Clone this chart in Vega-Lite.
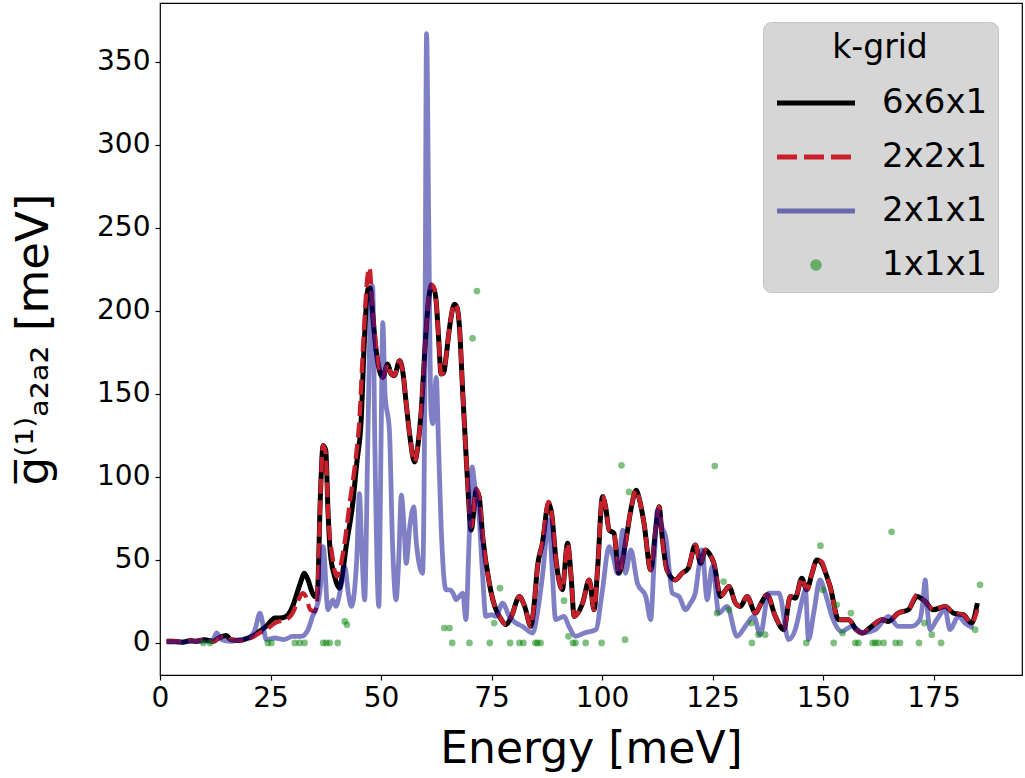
{
  "$schema": "https://vega.github.io/schema/vega-lite/v6.json",
  "width": 862,
  "height": 672,
  "autosize": {"type": "none"},
  "padding": {"left": 160, "top": 3, "right": 3, "bottom": 103},
  "background": "white",
  "config": {
    "font": "DejaVu Sans",
    "view": {"stroke": "black", "strokeWidth": 1.2},
    "axis": {"domain": false, "grid": false, "tickColor": "black", "tickSize": 5, "tickWidth": 1.2, "labelColor": "black", "titleColor": "black", "labelFont": "DejaVu Sans", "titleFont": "DejaVu Sans", "titleFontWeight": "normal"}
  },
  "data": {"values": [
    {"k":"6x6x1","E":1.5,"g":1},{"k":"6x6x1","E":3,"g":1},{"k":"6x6x1","E":5,"g":0.5},{"k":"6x6x1","E":7,"g":1.5},{"k":"6x6x1","E":8,"g":1},{"k":"6x6x1","E":10,"g":2},{"k":"6x6x1","E":12,"g":1},{"k":"6x6x1","E":13,"g":2.5},{"k":"6x6x1","E":15,"g":4.5},{"k":"6x6x1","E":16,"g":2},{"k":"6x6x1","E":18,"g":1.5},{"k":"6x6x1","E":20,"g":3},{"k":"6x6x1","E":21,"g":4},{"k":"6x6x1","E":22.5,"g":7},{"k":"6x6x1","E":24,"g":10},{"k":"6x6x1","E":26,"g":15},{"k":"6x6x1","E":27,"g":15},{"k":"6x6x1","E":28.5,"g":16},{"k":"6x6x1","E":30,"g":22},{"k":"6x6x1","E":31,"g":30},{"k":"6x6x1","E":32,"g":38},{"k":"6x6x1","E":32.6,"g":42},{"k":"6x6x1","E":33.5,"g":38},{"k":"6x6x1","E":34.2,"g":32},{"k":"6x6x1","E":35,"g":28},{"k":"6x6x1","E":35.6,"g":30},{"k":"6x6x1","E":36.3,"g":90},{"k":"6x6x1","E":36.9,"g":119},{"k":"6x6x1","E":37.5,"g":116},{"k":"6x6x1","E":38,"g":80},{"k":"6x6x1","E":38.5,"g":55},{"k":"6x6x1","E":39.5,"g":40},{"k":"6x6x1","E":40.6,"g":33},{"k":"6x6x1","E":41.3,"g":42},{"k":"6x6x1","E":42.1,"g":58},{"k":"6x6x1","E":43.6,"g":84},{"k":"6x6x1","E":44.5,"g":108},{"k":"6x6x1","E":45.5,"g":134},{"k":"6x6x1","E":46.2,"g":180},{"k":"6x6x1","E":47,"g":213},{"k":"6x6x1","E":47.5,"g":214},{"k":"6x6x1","E":48.2,"g":195},{"k":"6x6x1","E":48.9,"g":176},{"k":"6x6x1","E":50.4,"g":160},{"k":"6x6x1","E":51.5,"g":168},{"k":"6x6x1","E":52.3,"g":162},{"k":"6x6x1","E":53,"g":161},{"k":"6x6x1","E":54.2,"g":170},{"k":"6x6x1","E":55,"g":162},{"k":"6x6x1","E":55.7,"g":144},{"k":"6x6x1","E":56.5,"g":125},{"k":"6x6x1","E":57.6,"g":109},{"k":"6x6x1","E":58.3,"g":118},{"k":"6x6x1","E":59.1,"g":140},{"k":"6x6x1","E":60,"g":180},{"k":"6x6x1","E":60.7,"g":205},{"k":"6x6x1","E":61.3,"g":214},{"k":"6x6x1","E":62,"g":213},{"k":"6x6x1","E":62.5,"g":205},{"k":"6x6x1","E":63,"g":185},{"k":"6x6x1","E":63.6,"g":162},{"k":"6x6x1","E":64.2,"g":163},{"k":"6x6x1","E":64.7,"g":172},{"k":"6x6x1","E":65.5,"g":190},{"k":"6x6x1","E":66.6,"g":204},{"k":"6x6x1","E":67.2,"g":202},{"k":"6x6x1","E":67.7,"g":192},{"k":"6x6x1","E":68.5,"g":150},{"k":"6x6x1","E":69.2,"g":115},{"k":"6x6x1","E":69.6,"g":96},{"k":"6x6x1","E":70.4,"g":68},{"k":"6x6x1","E":71,"g":80},{"k":"6x6x1","E":71.5,"g":92},{"k":"6x6x1","E":72.2,"g":88},{"k":"6x6x1","E":73,"g":64},{"k":"6x6x1","E":74.5,"g":36},{"k":"6x6x1","E":76,"g":20},{"k":"6x6x1","E":77,"g":15},{"k":"6x6x1","E":78.3,"g":11},{"k":"6x6x1","E":79.5,"g":16},{"k":"6x6x1","E":81.3,"g":28},{"k":"6x6x1","E":82.5,"g":22},{"k":"6x6x1","E":83.9,"g":10},{"k":"6x6x1","E":84.7,"g":25},{"k":"6x6x1","E":85.4,"g":46},{"k":"6x6x1","E":86.5,"g":60},{"k":"6x6x1","E":87.9,"g":84},{"k":"6x6x1","E":88.6,"g":78},{"k":"6x6x1","E":89.5,"g":52},{"k":"6x6x1","E":91,"g":32},{"k":"6x6x1","E":92.2,"g":60},{"k":"6x6x1","E":93,"g":40},{"k":"6x6x1","E":93.7,"g":16},{"k":"6x6x1","E":95.6,"g":24},{"k":"6x6x1","E":97.1,"g":38},{"k":"6x6x1","E":98.2,"g":20},{"k":"6x6x1","E":99,"g":45},{"k":"6x6x1","E":100.1,"g":88},{"k":"6x6x1","E":100.8,"g":82},{"k":"6x6x1","E":101.6,"g":68},{"k":"6x6x1","E":102.7,"g":66},{"k":"6x6x1","E":103.8,"g":42},{"k":"6x6x1","E":105.3,"g":60},{"k":"6x6x1","E":106.5,"g":80},{"k":"6x6x1","E":107.7,"g":92},{"k":"6x6x1","E":108.5,"g":86},{"k":"6x6x1","E":109.5,"g":72},{"k":"6x6x1","E":111,"g":44},{"k":"6x6x1","E":112.2,"g":70},{"k":"6x6x1","E":112.9,"g":82},{"k":"6x6x1","E":113.6,"g":64},{"k":"6x6x1","E":114.7,"g":44},{"k":"6x6x1","E":116.6,"g":38},{"k":"6x6x1","E":118.1,"g":42},{"k":"6x6x1","E":119.5,"g":45},{"k":"6x6x1","E":121.1,"g":59},{"k":"6x6x1","E":122.3,"g":48},{"k":"6x6x1","E":123.4,"g":56},{"k":"6x6x1","E":124.2,"g":54},{"k":"6x6x1","E":125.3,"g":48},{"k":"6x6x1","E":126.8,"g":28},{"k":"6x6x1","E":127.5,"g":30},{"k":"6x6x1","E":128.7,"g":34},{"k":"6x6x1","E":130.2,"g":24},{"k":"6x6x1","E":131.3,"g":22},{"k":"6x6x1","E":132.8,"g":28},{"k":"6x6x1","E":134.7,"g":18},{"k":"6x6x1","E":136,"g":24},{"k":"6x6x1","E":137.3,"g":29},{"k":"6x6x1","E":139.2,"g":16},{"k":"6x6x1","E":141.1,"g":8},{"k":"6x6x1","E":142.6,"g":28},{"k":"6x6x1","E":143.7,"g":27},{"k":"6x6x1","E":145.2,"g":39},{"k":"6x6x1","E":146.3,"g":32},{"k":"6x6x1","E":147.5,"g":42},{"k":"6x6x1","E":148.6,"g":50},{"k":"6x6x1","E":149.7,"g":48},{"k":"6x6x1","E":150.6,"g":42},{"k":"6x6x1","E":151.6,"g":34},{"k":"6x6x1","E":153.5,"g":14},{"k":"6x6x1","E":155.8,"g":14},{"k":"6x6x1","E":157.5,"g":8},{"k":"6x6x1","E":158.8,"g":6},{"k":"6x6x1","E":161,"g":10},{"k":"6x6x1","E":163.3,"g":14},{"k":"6x6x1","E":164.8,"g":13},{"k":"6x6x1","E":167,"g":18},{"k":"6x6x1","E":169.3,"g":20},{"k":"6x6x1","E":171.2,"g":28},{"k":"6x6x1","E":173.1,"g":25},{"k":"6x6x1","E":174.9,"g":20},{"k":"6x6x1","E":177.6,"g":22},{"k":"6x6x1","E":179.5,"g":18},{"k":"6x6x1","E":181.7,"g":17},{"k":"6x6x1","E":183.6,"g":12},{"k":"6x6x1","E":184.9,"g":24},

    {"k":"2x2x1","E":1.5,"g":1},{"k":"2x2x1","E":3,"g":1},{"k":"2x2x1","E":5,"g":0.5},{"k":"2x2x1","E":7,"g":1.5},{"k":"2x2x1","E":8,"g":1},{"k":"2x2x1","E":10,"g":2},{"k":"2x2x1","E":12,"g":1},{"k":"2x2x1","E":13,"g":2.5},{"k":"2x2x1","E":15,"g":4},{"k":"2x2x1","E":16,"g":2},{"k":"2x2x1","E":18,"g":1.5},{"k":"2x2x1","E":20,"g":2.5},{"k":"2x2x1","E":21,"g":3.5},{"k":"2x2x1","E":22.5,"g":6},{"k":"2x2x1","E":24,"g":8},{"k":"2x2x1","E":26,"g":12},{"k":"2x2x1","E":27,"g":13},{"k":"2x2x1","E":28.5,"g":14},{"k":"2x2x1","E":30,"g":18},{"k":"2x2x1","E":31,"g":24},{"k":"2x2x1","E":32.3,"g":30},{"k":"2x2x1","E":33,"g":28},{"k":"2x2x1","E":34,"g":20},{"k":"2x2x1","E":35,"g":19},{"k":"2x2x1","E":35.6,"g":28},{"k":"2x2x1","E":36.3,"g":90},{"k":"2x2x1","E":36.9,"g":119},{"k":"2x2x1","E":37.5,"g":114},{"k":"2x2x1","E":38,"g":80},{"k":"2x2x1","E":39,"g":52},{"k":"2x2x1","E":40,"g":40},{"k":"2x2x1","E":41.4,"g":54},{"k":"2x2x1","E":42.9,"g":84},{"k":"2x2x1","E":44.4,"g":114},{"k":"2x2x1","E":45.1,"g":134},{"k":"2x2x1","E":46,"g":182},{"k":"2x2x1","E":47,"g":222},{"k":"2x2x1","E":47.4,"g":226},{"k":"2x2x1","E":48,"g":205},{"k":"2x2x1","E":48.9,"g":178},{"k":"2x2x1","E":50.4,"g":160},{"k":"2x2x1","E":51.5,"g":168},{"k":"2x2x1","E":52.3,"g":162},{"k":"2x2x1","E":53,"g":161},{"k":"2x2x1","E":54.2,"g":170},{"k":"2x2x1","E":55,"g":162},{"k":"2x2x1","E":55.7,"g":144},{"k":"2x2x1","E":56.5,"g":125},{"k":"2x2x1","E":57.6,"g":109},{"k":"2x2x1","E":58.3,"g":118},{"k":"2x2x1","E":59.1,"g":140},{"k":"2x2x1","E":60,"g":180},{"k":"2x2x1","E":60.7,"g":206},{"k":"2x2x1","E":61.3,"g":216},{"k":"2x2x1","E":62,"g":214},{"k":"2x2x1","E":62.5,"g":205},{"k":"2x2x1","E":63,"g":185},{"k":"2x2x1","E":63.6,"g":162},{"k":"2x2x1","E":64.2,"g":163},{"k":"2x2x1","E":64.7,"g":172},{"k":"2x2x1","E":65.5,"g":190},{"k":"2x2x1","E":66.6,"g":204},{"k":"2x2x1","E":67.2,"g":202},{"k":"2x2x1","E":67.7,"g":192},{"k":"2x2x1","E":68.5,"g":150},{"k":"2x2x1","E":69.2,"g":115},{"k":"2x2x1","E":69.6,"g":96},{"k":"2x2x1","E":70.4,"g":70},{"k":"2x2x1","E":71,"g":82},{"k":"2x2x1","E":71.5,"g":93},{"k":"2x2x1","E":72.2,"g":88},{"k":"2x2x1","E":73,"g":64},{"k":"2x2x1","E":74.5,"g":36},{"k":"2x2x1","E":76,"g":20},{"k":"2x2x1","E":77,"g":15},{"k":"2x2x1","E":78.3,"g":11},{"k":"2x2x1","E":79.5,"g":16},{"k":"2x2x1","E":81.3,"g":28},{"k":"2x2x1","E":82.5,"g":22},{"k":"2x2x1","E":83.9,"g":10},{"k":"2x2x1","E":84.7,"g":25},{"k":"2x2x1","E":85.4,"g":46},{"k":"2x2x1","E":86.5,"g":60},{"k":"2x2x1","E":87.9,"g":85},{"k":"2x2x1","E":88.6,"g":78},{"k":"2x2x1","E":89.5,"g":52},{"k":"2x2x1","E":91,"g":32},{"k":"2x2x1","E":92.2,"g":60},{"k":"2x2x1","E":93,"g":40},{"k":"2x2x1","E":93.7,"g":16},{"k":"2x2x1","E":95.6,"g":24},{"k":"2x2x1","E":97.1,"g":38},{"k":"2x2x1","E":98.2,"g":20},{"k":"2x2x1","E":99,"g":45},{"k":"2x2x1","E":100.1,"g":89},{"k":"2x2x1","E":100.8,"g":82},{"k":"2x2x1","E":101.6,"g":68},{"k":"2x2x1","E":102.7,"g":66},{"k":"2x2x1","E":103.8,"g":42},{"k":"2x2x1","E":105.3,"g":60},{"k":"2x2x1","E":106.5,"g":80},{"k":"2x2x1","E":107.7,"g":92},{"k":"2x2x1","E":108.5,"g":86},{"k":"2x2x1","E":109.5,"g":72},{"k":"2x2x1","E":111,"g":44},{"k":"2x2x1","E":112.2,"g":70},{"k":"2x2x1","E":112.9,"g":82},{"k":"2x2x1","E":113.6,"g":64},{"k":"2x2x1","E":114.7,"g":44},{"k":"2x2x1","E":116.6,"g":38},{"k":"2x2x1","E":118.1,"g":42},{"k":"2x2x1","E":119.5,"g":45},{"k":"2x2x1","E":121.1,"g":59},{"k":"2x2x1","E":122.3,"g":48},{"k":"2x2x1","E":123.4,"g":56},{"k":"2x2x1","E":124.2,"g":54},{"k":"2x2x1","E":125.3,"g":48},{"k":"2x2x1","E":126.8,"g":28},{"k":"2x2x1","E":127.5,"g":30},{"k":"2x2x1","E":128.7,"g":34},{"k":"2x2x1","E":130.2,"g":24},{"k":"2x2x1","E":131.3,"g":22},{"k":"2x2x1","E":132.8,"g":28},{"k":"2x2x1","E":134.7,"g":18},{"k":"2x2x1","E":136,"g":24},{"k":"2x2x1","E":137.3,"g":29},{"k":"2x2x1","E":139.2,"g":16},{"k":"2x2x1","E":141.1,"g":8},{"k":"2x2x1","E":142.6,"g":28},{"k":"2x2x1","E":143.7,"g":27},{"k":"2x2x1","E":145.2,"g":39},{"k":"2x2x1","E":146.3,"g":32},{"k":"2x2x1","E":147.5,"g":42},{"k":"2x2x1","E":148.6,"g":50},{"k":"2x2x1","E":149.7,"g":49},{"k":"2x2x1","E":150.6,"g":42},{"k":"2x2x1","E":151.6,"g":34},{"k":"2x2x1","E":153.5,"g":14},{"k":"2x2x1","E":155.8,"g":14},{"k":"2x2x1","E":157.5,"g":8},{"k":"2x2x1","E":158.8,"g":6},{"k":"2x2x1","E":161,"g":10},{"k":"2x2x1","E":163.3,"g":14},{"k":"2x2x1","E":164.8,"g":13},{"k":"2x2x1","E":167,"g":18},{"k":"2x2x1","E":169.3,"g":20},{"k":"2x2x1","E":171.2,"g":29},{"k":"2x2x1","E":173.1,"g":25},{"k":"2x2x1","E":174.9,"g":20},{"k":"2x2x1","E":177.6,"g":22},{"k":"2x2x1","E":179.5,"g":18},{"k":"2x2x1","E":181.7,"g":17},{"k":"2x2x1","E":183.6,"g":12},{"k":"2x2x1","E":184.9,"g":20},

    {"k":"2x1x1","E":1.5,"g":0.5},{"k":"2x1x1","E":5,"g":0.5},{"k":"2x1x1","E":8,"g":1},{"k":"2x1x1","E":10,"g":1},{"k":"2x1x1","E":12,"g":2},{"k":"2x1x1","E":12.8,"g":6},{"k":"2x1x1","E":14,"g":2},{"k":"2x1x1","E":16,"g":1},{"k":"2x1x1","E":18,"g":2},{"k":"2x1x1","E":20,"g":3},{"k":"2x1x1","E":21.5,"g":8},{"k":"2x1x1","E":22.6,"g":18},{"k":"2x1x1","E":23.5,"g":8},{"k":"2x1x1","E":24,"g":2},{"k":"2x1x1","E":26,"g":3},{"k":"2x1x1","E":28,"g":2},{"k":"2x1x1","E":30,"g":4},{"k":"2x1x1","E":32,"g":4},{"k":"2x1x1","E":33.5,"g":8},{"k":"2x1x1","E":34.5,"g":16},{"k":"2x1x1","E":35.5,"g":22},{"k":"2x1x1","E":36.3,"g":34},{"k":"2x1x1","E":36.9,"g":58},{"k":"2x1x1","E":38,"g":20},{"k":"2x1x1","E":39.1,"g":26},{"k":"2x1x1","E":39.8,"g":22},{"k":"2x1x1","E":41,"g":35},{"k":"2x1x1","E":41.8,"g":46},{"k":"2x1x1","E":42.6,"g":30},{"k":"2x1x1","E":43.3,"g":22},{"k":"2x1x1","E":44.5,"g":50},{"k":"2x1x1","E":45.1,"g":90},{"k":"2x1x1","E":45.6,"g":60},{"k":"2x1x1","E":46.3,"g":26},{"k":"2x1x1","E":47,"g":120},{"k":"2x1x1","E":47.6,"g":200},{"k":"2x1x1","E":48.1,"g":215},{"k":"2x1x1","E":48.6,"g":120},{"k":"2x1x1","E":49.5,"g":22},{"k":"2x1x1","E":50,"g":120},{"k":"2x1x1","E":50.4,"g":193},{"k":"2x1x1","E":50.9,"g":150},{"k":"2x1x1","E":51.9,"g":128},{"k":"2x1x1","E":52.6,"g":60},{"k":"2x1x1","E":53.4,"g":26},{"k":"2x1x1","E":54,"g":50},{"k":"2x1x1","E":54.6,"g":89},{"k":"2x1x1","E":55.2,"g":70},{"k":"2x1x1","E":55.7,"g":48},{"k":"2x1x1","E":56.5,"g":70},{"k":"2x1x1","E":57.4,"g":82},{"k":"2x1x1","E":58,"g":60},{"k":"2x1x1","E":59.4,"g":42},{"k":"2x1x1","E":59.9,"g":150},{"k":"2x1x1","E":60.3,"g":367},{"k":"2x1x1","E":60.8,"g":250},{"k":"2x1x1","E":61.3,"g":140},{"k":"2x1x1","E":61.7,"g":132},{"k":"2x1x1","E":62.5,"g":160},{"k":"2x1x1","E":63,"g":120},{"k":"2x1x1","E":63.6,"g":70},{"k":"2x1x1","E":64.7,"g":32},{"k":"2x1x1","E":65.5,"g":32},{"k":"2x1x1","E":66.3,"g":30},{"k":"2x1x1","E":67,"g":26},{"k":"2x1x1","E":67.7,"g":28},{"k":"2x1x1","E":68.5,"g":30},{"k":"2x1x1","E":69.2,"g":14},{"k":"2x1x1","E":69.9,"g":60},{"k":"2x1x1","E":70.6,"g":106},{"k":"2x1x1","E":71.2,"g":95},{"k":"2x1x1","E":72.2,"g":76},{"k":"2x1x1","E":73,"g":40},{"k":"2x1x1","E":73.7,"g":16},{"k":"2x1x1","E":75,"g":17},{"k":"2x1x1","E":76,"g":16},{"k":"2x1x1","E":77.5,"g":24},{"k":"2x1x1","E":79,"g":16},{"k":"2x1x1","E":80.5,"g":12},{"k":"2x1x1","E":82,"g":10},{"k":"2x1x1","E":84.3,"g":6},{"k":"2x1x1","E":85.5,"g":20},{"k":"2x1x1","E":86.5,"g":40},{"k":"2x1x1","E":88,"g":74},{"k":"2x1x1","E":88.7,"g":45},{"k":"2x1x1","E":89.5,"g":14},{"k":"2x1x1","E":91.4,"g":16},{"k":"2x1x1","E":92.5,"g":10},{"k":"2x1x1","E":94,"g":4},{"k":"2x1x1","E":96,"g":6},{"k":"2x1x1","E":98.6,"g":8},{"k":"2x1x1","E":100,"g":30},{"k":"2x1x1","E":101.6,"g":58},{"k":"2x1x1","E":102.5,"g":52},{"k":"2x1x1","E":103.5,"g":42},{"k":"2x1x1","E":104.7,"g":68},{"k":"2x1x1","E":105.3,"g":42},{"k":"2x1x1","E":106.5,"g":56},{"k":"2x1x1","E":108,"g":36},{"k":"2x1x1","E":109.9,"g":28},{"k":"2x1x1","E":111,"g":14},{"k":"2x1x1","E":111.8,"g":50},{"k":"2x1x1","E":112.5,"g":80},{"k":"2x1x1","E":113.5,"g":70},{"k":"2x1x1","E":114.4,"g":64},{"k":"2x1x1","E":115.9,"g":30},{"k":"2x1x1","E":117.4,"g":28},{"k":"2x1x1","E":118.9,"g":20},{"k":"2x1x1","E":120,"g":24},{"k":"2x1x1","E":121.1,"g":30},{"k":"2x1x1","E":121.9,"g":46},{"k":"2x1x1","E":122.6,"g":56},{"k":"2x1x1","E":123.8,"g":26},{"k":"2x1x1","E":124.9,"g":46},{"k":"2x1x1","E":125.3,"g":42},{"k":"2x1x1","E":126.4,"g":18},{"k":"2x1x1","E":128.3,"g":22},{"k":"2x1x1","E":130.5,"g":4},{"k":"2x1x1","E":132.4,"g":10},{"k":"2x1x1","E":134.3,"g":16},{"k":"2x1x1","E":135.8,"g":5},{"k":"2x1x1","E":137.7,"g":30},{"k":"2x1x1","E":140,"g":30},{"k":"2x1x1","E":142.2,"g":2},{"k":"2x1x1","E":143.7,"g":8},{"k":"2x1x1","E":145.2,"g":25},{"k":"2x1x1","E":146,"g":32},{"k":"2x1x1","E":146.7,"g":2},{"k":"2x1x1","E":148,"g":20},{"k":"2x1x1","E":149.3,"g":38},{"k":"2x1x1","E":150.5,"g":30},{"k":"2x1x1","E":152,"g":16},{"k":"2x1x1","E":154.2,"g":7},{"k":"2x1x1","E":156.5,"g":10},{"k":"2x1x1","E":159.1,"g":6},{"k":"2x1x1","E":161.8,"g":8},{"k":"2x1x1","E":164.8,"g":16},{"k":"2x1x1","E":167,"g":10},{"k":"2x1x1","E":170,"g":10},{"k":"2x1x1","E":171.9,"g":14},{"k":"2x1x1","E":172.6,"g":25},{"k":"2x1x1","E":173.1,"g":38},{"k":"2x1x1","E":173.6,"g":20},{"k":"2x1x1","E":174.2,"g":8},{"k":"2x1x1","E":175.7,"g":14},{"k":"2x1x1","E":177.6,"g":20},{"k":"2x1x1","E":178.7,"g":8},{"k":"2x1x1","E":180.6,"g":16},{"k":"2x1x1","E":182.1,"g":12},{"k":"2x1x1","E":184,"g":9},

    {"k":"1x1x1","E":9.8,"g":0},{"k":"1x1x1","E":11.3,"g":0},{"k":"1x1x1","E":24.4,"g":0},{"k":"1x1x1","E":25.2,"g":0},{"k":"1x1x1","E":30.5,"g":0},{"k":"1x1x1","E":31.6,"g":0},{"k":"1x1x1","E":32.7,"g":0},{"k":"1x1x1","E":36.9,"g":0},{"k":"1x1x1","E":37.6,"g":0},{"k":"1x1x1","E":38.4,"g":0},{"k":"1x1x1","E":40.2,"g":0},{"k":"1x1x1","E":41.8,"g":13},{"k":"1x1x1","E":42.3,"g":11},{"k":"1x1x1","E":64.3,"g":9},{"k":"1x1x1","E":65.5,"g":9},{"k":"1x1x1","E":66.1,"g":0},{"k":"1x1x1","E":70,"g":0},{"k":"1x1x1","E":70.7,"g":183.5},{"k":"1x1x1","E":71.7,"g":212},{"k":"1x1x1","E":74.6,"g":0},{"k":"1x1x1","E":75.6,"g":12},{"k":"1x1x1","E":76.9,"g":33},{"k":"1x1x1","E":79.2,"g":0},{"k":"1x1x1","E":81.3,"g":0},{"k":"1x1x1","E":82.2,"g":0},{"k":"1x1x1","E":84.9,"g":0},{"k":"1x1x1","E":85.4,"g":0},{"k":"1x1x1","E":86.1,"g":0},{"k":"1x1x1","E":91.4,"g":25.5},{"k":"1x1x1","E":92.4,"g":4},{"k":"1x1x1","E":93.4,"g":0},{"k":"1x1x1","E":94,"g":0},{"k":"1x1x1","E":96.3,"g":0},{"k":"1x1x1","E":99.9,"g":0},{"k":"1x1x1","E":104.4,"g":107},{"k":"1x1x1","E":105.2,"g":2},{"k":"1x1x1","E":106.1,"g":91},{"k":"1x1x1","E":125.5,"g":106.6},{"k":"1x1x1","E":126,"g":18},{"k":"1x1x1","E":127.5,"g":37},{"k":"1x1x1","E":128.7,"g":20},{"k":"1x1x1","E":133.8,"g":12},{"k":"1x1x1","E":133.9,"g":0},{"k":"1x1x1","E":135.4,"g":5},{"k":"1x1x1","E":136.9,"g":5},{"k":"1x1x1","E":146.2,"g":0},{"k":"1x1x1","E":149.4,"g":58.6},{"k":"1x1x1","E":149.9,"g":32},{"k":"1x1x1","E":152.4,"g":0},{"k":"1x1x1","E":153.1,"g":23},{"k":"1x1x1","E":154.4,"g":6},{"k":"1x1x1","E":156.3,"g":18},{"k":"1x1x1","E":157.3,"g":0},{"k":"1x1x1","E":158,"g":0},{"k":"1x1x1","E":161.2,"g":0},{"k":"1x1x1","E":161.8,"g":0},{"k":"1x1x1","E":162.5,"g":0},{"k":"1x1x1","E":163.7,"g":0},{"k":"1x1x1","E":165.5,"g":67},{"k":"1x1x1","E":166.4,"g":0},{"k":"1x1x1","E":167.4,"g":0},{"k":"1x1x1","E":171.7,"g":0},{"k":"1x1x1","E":172.9,"g":12},{"k":"1x1x1","E":174.6,"g":5},{"k":"1x1x1","E":176.7,"g":0},{"k":"1x1x1","E":184.4,"g":8},{"k":"1x1x1","E":185.5,"g":35}
  ]},
  "encoding": {
    "x": {"field": "E", "type": "quantitative", "scale": {"domain": [0, 195], "nice": false, "zero": false},
      "axis": {"title": "Energy [meV]", "values": [0, 25, 50, 75, 100, 125, 150, 175], "labelFontSize": 28, "titleFontSize": 44, "labelPadding": 4, "titlePadding": 15, "labelFlush": false}},
    "y": {"field": "g", "type": "quantitative", "scale": {"domain": [-19.3, 385.5], "nice": false, "zero": false},
      "axis": {"title": "g̅⁽¹⁾ₐ₂ₐ₂ [meV]", "values": [0, 50, 100, 150, 200, 250, 300, 350], "labelFontSize": 28, "titleFontSize": 45, "labelPadding": 5, "titlePadding": 40, "labelFlush": false}},
    "color": {"field": "k", "type": "nominal",
      "scale": {"domain": ["6x6x1", "2x2x1", "2x1x1", "1x1x1"], "range": ["black", "#c8202a", "#00008b", "green"]}}
  },
  "layer": [
    {"transform": [{"filter": "datum.k === '6x6x1'"}],
     "mark": {"type": "line", "strokeWidth": 5, "interpolate": "monotone", "clip": true},
     "encoding": {"color": {"field": "k", "type": "nominal",
       "scale": {"domain": ["6x6x1", "2x2x1", "2x1x1", "1x1x1"], "range": ["black", "#c8202a", "#00008b", "green"]},
       "legend": {
         "orient": "none", "legendX": 603, "legendY": 19,
         "title": "k-grid", "titleFontSize": 33, "titleFont": "DejaVu Sans", "titleFontWeight": "normal", "titleColor": "black", "titleAnchor": "middle", "titlePadding": 21,
         "labelFontSize": 34, "labelFont": "DejaVu Sans", "labelColor": "black", "labelOffset": 49,
         "symbolType": "M-3,0H3", "symbolSize": 676, "symbolOffset": 26, "rowPadding": 20,
         "padding": 10, "fillColor": "#d6d6d6", "strokeColor": "#c4c4c4", "cornerRadius": 8,
         "encode": {"symbols": {"update": {
           "shape": {"signal": "datum.value === '1x1x1' ? 'circle' : 'M-3,0H3'"},
           "size": {"signal": "datum.value === '1x1x1' ? 42 : 676"},
           "stroke": {"signal": "datum.value === '6x6x1' ? 'black' : datum.value === '2x2x1' ? '#c8202a' : datum.value === '2x1x1' ? '#00008b' : 'transparent'"},
           "fill": {"signal": "datum.value === '1x1x1' ? 'green' : 'transparent'"},
           "opacity": {"signal": "datum.value === '2x1x1' || datum.value === '1x1x1' ? 0.5 : 1"},
           "strokeWidth": {"value": 5},
           "strokeDash": {"signal": "datum.value === '2x2x1' ? [20, 7] : [1, 0]"}
         }}}
       }}}},
    {"transform": [{"filter": "datum.k === '2x2x1'"}],
     "mark": {"type": "line", "strokeWidth": 4.3, "strokeDash": [15, 6.5], "interpolate": "monotone", "clip": true}},
    {"transform": [{"filter": "datum.k === '2x1x1'"}],
     "mark": {"type": "line", "strokeWidth": 4.8, "opacity": 0.5, "interpolate": "monotone", "clip": true}},
    {"transform": [{"filter": "datum.k === '1x1x1'"}],
     "mark": {"type": "point", "filled": true, "shape": "circle", "size": 45, "opacity": 0.5, "clip": true}}
  ]
}
